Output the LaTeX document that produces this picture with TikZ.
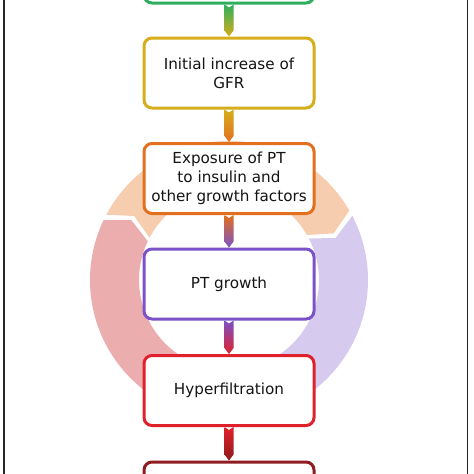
\documentclass[tikz,border=0pt]{standalone}
\usepackage{fontspec}
\setmainfont{DejaVu Sans}
\usetikzlibrary{calc}
\definecolor{cgreen}{HTML}{2DAE5E}
\definecolor{cyellow}{HTML}{D6AD1A}
\definecolor{corange}{HTML}{E2701E}
\definecolor{cpurple}{HTML}{7B52C8}
\definecolor{cred}{HTML}{E0202A}
\definecolor{cdred}{HTML}{8E1B1F}
\definecolor{rpeach}{HTML}{F7CDB0}
\definecolor{rlilac}{HTML}{D6CBEE}
\definecolor{rpink}{HTML}{EBADAD}
\newcommand\flowconn[4]{%
  \shade[top color=#3, bottom color=#4]
    ($(#1.south)+(-4.5,0)$) -- ($(#1.south)+(0,-3)$) -- ($(#1.south)+(4.5,0)$)
    -- ($(#2.north)+(4.5,6)$) -- (#2.north) -- ($(#2.north)+(-4.5,6)$) -- cycle;}
% ring segment: trailing corner angle, trailing notch angle, leading corner angle, leading tip angle
\newcommand\ringseg[5]{%
  \fill[#5] (#1:139pt) arc[start angle=#1, end angle=#3, radius=139pt]
    -- (#4:114.5pt) -- (#3:90pt) arc[start angle=#3, end angle=#1, radius=90pt]
    -- (#2:114.5pt) -- cycle;}
\tikzset{
  flowbox/.style={draw=#1, line width=3pt, rounded corners=8pt, fill=white,
    minimum width=170pt, minimum height=70pt, align=center,
    font=\fontsize{15.2}{19}\selectfont, text=black!92},
  frameline/.style={line width=1.6pt, draw=black!85}
}
\begin{document}
\begin{tikzpicture}[x=1pt,y=1pt]
\useasboundingbox (0,0) rectangle (474,-474);
\fill[white] (0,0) rectangle (474,-474);
\draw[frameline] (4,12) rectangle (467.5,-486);
% cycle ring
\begin{scope}[shift={(229,-280)}]
  \ringseg{152}{146}{30}{24}{rpeach}
  \ringseg{27.5}{21.5}{-87}{-93}{rlilac}
  \ringseg{270.5}{264.5}{154.5}{148.5}{rpink}
\end{scope}
% boxes
\node[flowbox=cgreen]  (b1) at (229,32) {};
\node[flowbox=cyellow] (b2) at (229,-73) {Initial increase of\\GFR};
\node[flowbox=corange] (b3) at (229,-178.5) {Exposure of PT\\to insulin and\\other growth factors};
\node[flowbox=cpurple] (b4) at (229,-284) {PT growth};
\node[flowbox=cred]    (b5) at (229,-390.5) {Hyperfiltration};
\node[flowbox=cdred]   (b6) at (229,-497) {};
% connectors
\flowconn{b1}{b2}{cgreen}{cyellow}
\flowconn{b2}{b3}{cyellow}{corange}
\flowconn{b3}{b4}{corange}{cpurple}
\flowconn{b4}{b5}{cpurple}{cred}
\flowconn{b5}{b6}{cred}{cdred}
\end{tikzpicture}
\end{document}
